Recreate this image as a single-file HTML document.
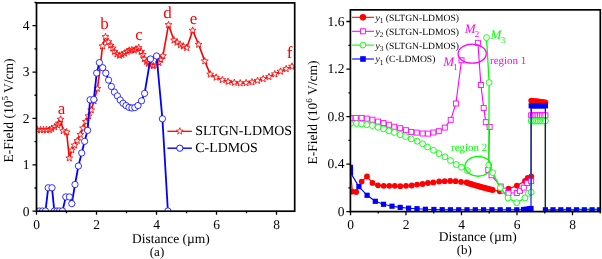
<!DOCTYPE html>
<html><head><meta charset="utf-8"><style>
html,body{margin:0;padding:0;background:#fff;width:602px;height:259px;overflow:hidden}
svg{display:block;font-family:"Liberation Serif",serif;text-rendering:geometricPrecision;will-change:transform}
</style></head><body>
<svg width="602" height="259" viewBox="0 0 602 259">
<rect width="602" height="259" fill="#fff"/>
<defs><clipPath id="cl"><rect x="36.5" y="2.9" width="258.2" height="208.3"/></clipPath><clipPath id="cr"><rect x="350.4" y="9.85" width="249.9" height="201.75"/></clipPath></defs>
<g clip-path="url(#cl)">
<polyline points="36.5,129.9 37.5,129.9 40.5,129.9 43.5,129.9 46.5,129.9 49.5,129.9 51.7,128.7 54.7,127 57.6,125.3 58.9,123.2 60.6,119.4 63.2,130.9 66.6,132.1 69.3,158.1 71.8,150.2 74.6,145.2 77.3,140.8 80.3,134.6 83,128.1 85.8,121.6 88.5,116.1 91.2,110.1 94,101.1 97.4,88.6 99.8,70.6 102.5,46.1 105.5,36.8 108.4,41.9 110.6,45.3 112.7,48.2 114.4,51.6 116.9,54.2 119.5,55.5 122,54.6 124.6,53.3 127.1,51.6 129.2,50.4 131.8,49.9 134.3,50.4 136,49.1 138.6,47.8 141.1,51.6 142.8,54.6 144.3,58.9 146.5,61.6 148.3,63.6 150.5,65.1 153.3,65.9 156,65.2 158.9,62.6 160.7,59.6 162.9,55.9 168.5,24.8 174,40.2 177,42.4 180.4,45 183.3,46.2 186.7,47.9 192.7,30.4 198.6,44.5 204.8,61.1 210.2,74.3 216.1,77.4 222.3,79.9 228.1,81.6 234.3,82.6 240.2,83.1 246.1,82.9 252,82.1 257.5,80.6 263.2,78.9 269,76.8 274.8,74.1 280.5,71.4 286.2,68.9 292,66.4 294.7,65.4" fill="none" stroke="#f00" stroke-width="1.6" stroke-linejoin="round"/>
<path d="M37.5 126.3L38.39 128.68L40.92 128.79L38.94 130.37L39.62 132.81L37.5 131.41L35.38 132.81L36.06 130.37L34.08 128.79L36.61 128.68ZM40.5 126.3L41.39 128.68L43.92 128.79L41.94 130.37L42.62 132.81L40.5 131.41L38.38 132.81L39.06 130.37L37.08 128.79L39.61 128.68ZM43.5 126.3L44.39 128.68L46.92 128.79L44.94 130.37L45.62 132.81L43.5 131.41L41.38 132.81L42.06 130.37L40.08 128.79L42.61 128.68ZM46.5 126.3L47.39 128.68L49.92 128.79L47.94 130.37L48.62 132.81L46.5 131.41L44.38 132.81L45.06 130.37L43.08 128.79L45.61 128.68ZM49.5 126.3L50.39 128.68L52.92 128.79L50.94 130.37L51.62 132.81L49.5 131.41L47.38 132.81L48.06 130.37L46.08 128.79L48.61 128.68ZM51.7 125.1L52.59 127.48L55.12 127.59L53.14 129.17L53.82 131.61L51.7 130.21L49.58 131.61L50.26 129.17L48.28 127.59L50.81 127.48ZM54.7 123.4L55.59 125.78L58.12 125.89L56.14 127.47L56.82 129.91L54.7 128.51L52.58 129.91L53.26 127.47L51.28 125.89L53.81 125.78ZM57.6 121.7L58.49 124.08L61.02 124.19L59.04 125.77L59.72 128.21L57.6 126.81L55.48 128.21L56.16 125.77L54.18 124.19L56.71 124.08ZM58.9 119.6L59.79 121.98L62.32 122.09L60.34 123.67L61.02 126.11L58.9 124.71L56.78 126.11L57.46 123.67L55.48 122.09L58.01 121.98ZM60.6 115.8L61.49 118.18L64.02 118.29L62.04 119.87L62.72 122.31L60.6 120.91L58.48 122.31L59.16 119.87L57.18 118.29L59.71 118.18ZM63.2 127.3L64.09 129.68L66.62 129.79L64.64 131.37L65.32 133.81L63.2 132.41L61.08 133.81L61.76 131.37L59.78 129.79L62.31 129.68ZM66.6 128.5L67.49 130.88L70.02 130.99L68.04 132.57L68.72 135.01L66.6 133.61L64.48 135.01L65.16 132.57L63.18 130.99L65.71 130.88ZM69.3 154.5L70.19 156.88L72.72 156.99L70.74 158.57L71.42 161.01L69.3 159.61L67.18 161.01L67.86 158.57L65.88 156.99L68.41 156.88ZM71.8 146.6L72.69 148.98L75.22 149.09L73.24 150.67L73.92 153.11L71.8 151.71L69.68 153.11L70.36 150.67L68.38 149.09L70.91 148.98ZM74.6 141.6L75.49 143.98L78.02 144.09L76.04 145.67L76.72 148.11L74.6 146.71L72.48 148.11L73.16 145.67L71.18 144.09L73.71 143.98ZM77.3 137.2L78.19 139.58L80.72 139.69L78.74 141.27L79.42 143.71L77.3 142.31L75.18 143.71L75.86 141.27L73.88 139.69L76.41 139.58ZM80.3 131L81.19 133.38L83.72 133.49L81.74 135.07L82.42 137.51L80.3 136.11L78.18 137.51L78.86 135.07L76.88 133.49L79.41 133.38ZM83 124.5L83.89 126.88L86.42 126.99L84.44 128.57L85.12 131.01L83 129.61L80.88 131.01L81.56 128.57L79.58 126.99L82.11 126.88ZM85.8 118L86.69 120.38L89.22 120.49L87.24 122.07L87.92 124.51L85.8 123.11L83.68 124.51L84.36 122.07L82.38 120.49L84.91 120.38ZM88.5 112.5L89.39 114.88L91.92 114.99L89.94 116.57L90.62 119.01L88.5 117.61L86.38 119.01L87.06 116.57L85.08 114.99L87.61 114.88ZM91.2 106.5L92.09 108.88L94.62 108.99L92.64 110.57L93.32 113.01L91.2 111.61L89.08 113.01L89.76 110.57L87.78 108.99L90.31 108.88ZM94 97.5L94.89 99.88L97.42 99.99L95.44 101.57L96.12 104.01L94 102.61L91.88 104.01L92.56 101.57L90.58 99.99L93.11 99.88ZM97.4 85L98.29 87.38L100.82 87.49L98.84 89.07L99.52 91.51L97.4 90.11L95.28 91.51L95.96 89.07L93.98 87.49L96.51 87.38ZM102.5 42.5L103.39 44.88L105.92 44.99L103.94 46.57L104.62 49.01L102.5 47.61L100.38 49.01L101.06 46.57L99.08 44.99L101.61 44.88ZM105.5 33.2L106.39 35.58L108.92 35.69L106.94 37.27L107.62 39.71L105.5 38.31L103.38 39.71L104.06 37.27L102.08 35.69L104.61 35.58ZM108.4 38.3L109.29 40.68L111.82 40.79L109.84 42.37L110.52 44.81L108.4 43.41L106.28 44.81L106.96 42.37L104.98 40.79L107.51 40.68ZM110.6 41.7L111.49 44.08L114.02 44.19L112.04 45.77L112.72 48.21L110.6 46.81L108.48 48.21L109.16 45.77L107.18 44.19L109.71 44.08ZM112.7 44.6L113.59 46.98L116.12 47.09L114.14 48.67L114.82 51.11L112.7 49.71L110.58 51.11L111.26 48.67L109.28 47.09L111.81 46.98ZM114.4 48L115.29 50.38L117.82 50.49L115.84 52.07L116.52 54.51L114.4 53.11L112.28 54.51L112.96 52.07L110.98 50.49L113.51 50.38ZM116.9 50.6L117.79 52.98L120.32 53.09L118.34 54.67L119.02 57.11L116.9 55.71L114.78 57.11L115.46 54.67L113.48 53.09L116.01 52.98ZM119.5 51.9L120.39 54.28L122.92 54.39L120.94 55.97L121.62 58.41L119.5 57.01L117.38 58.41L118.06 55.97L116.08 54.39L118.61 54.28ZM122 51L122.89 53.38L125.42 53.49L123.44 55.07L124.12 57.51L122 56.11L119.88 57.51L120.56 55.07L118.58 53.49L121.11 53.38ZM124.6 49.7L125.49 52.08L128.02 52.19L126.04 53.77L126.72 56.21L124.6 54.81L122.48 56.21L123.16 53.77L121.18 52.19L123.71 52.08ZM127.1 48L127.99 50.38L130.52 50.49L128.54 52.07L129.22 54.51L127.1 53.11L124.98 54.51L125.66 52.07L123.68 50.49L126.21 50.38ZM129.2 46.8L130.09 49.18L132.62 49.29L130.64 50.87L131.32 53.31L129.2 51.91L127.08 53.31L127.76 50.87L125.78 49.29L128.31 49.18ZM131.8 46.3L132.69 48.68L135.22 48.79L133.24 50.37L133.92 52.81L131.8 51.41L129.68 52.81L130.36 50.37L128.38 48.79L130.91 48.68ZM134.3 46.8L135.19 49.18L137.72 49.29L135.74 50.87L136.42 53.31L134.3 51.91L132.18 53.31L132.86 50.87L130.88 49.29L133.41 49.18ZM136 45.5L136.89 47.88L139.42 47.99L137.44 49.57L138.12 52.01L136 50.61L133.88 52.01L134.56 49.57L132.58 47.99L135.11 47.88ZM138.6 44.2L139.49 46.58L142.02 46.69L140.04 48.27L140.72 50.71L138.6 49.31L136.48 50.71L137.16 48.27L135.18 46.69L137.71 46.58ZM141.1 48L141.99 50.38L144.52 50.49L142.54 52.07L143.22 54.51L141.1 53.11L138.98 54.51L139.66 52.07L137.68 50.49L140.21 50.38ZM142.8 51L143.69 53.38L146.22 53.49L144.24 55.07L144.92 57.51L142.8 56.11L140.68 57.51L141.36 55.07L139.38 53.49L141.91 53.38ZM144.3 55.3L145.19 57.68L147.72 57.79L145.74 59.37L146.42 61.81L144.3 60.41L142.18 61.81L142.86 59.37L140.88 57.79L143.41 57.68ZM146.5 58L147.39 60.38L149.92 60.49L147.94 62.07L148.62 64.51L146.5 63.11L144.38 64.51L145.06 62.07L143.08 60.49L145.61 60.38ZM148.3 60L149.19 62.38L151.72 62.49L149.74 64.07L150.42 66.51L148.3 65.11L146.18 66.51L146.86 64.07L144.88 62.49L147.41 62.38ZM150.5 61.5L151.39 63.88L153.92 63.99L151.94 65.57L152.62 68.01L150.5 66.61L148.38 68.01L149.06 65.57L147.08 63.99L149.61 63.88ZM153.3 62.3L154.19 64.68L156.72 64.79L154.74 66.37L155.42 68.81L153.3 67.41L151.18 68.81L151.86 66.37L149.88 64.79L152.41 64.68ZM156 61.6L156.89 63.98L159.42 64.09L157.44 65.67L158.12 68.11L156 66.71L153.88 68.11L154.56 65.67L152.58 64.09L155.11 63.98ZM158.9 59L159.79 61.38L162.32 61.49L160.34 63.07L161.02 65.51L158.9 64.11L156.78 65.51L157.46 63.07L155.48 61.49L158.01 61.38ZM160.7 56L161.59 58.38L164.12 58.49L162.14 60.07L162.82 62.51L160.7 61.11L158.58 62.51L159.26 60.07L157.28 58.49L159.81 58.38ZM162.9 52.3L163.79 54.68L166.32 54.79L164.34 56.37L165.02 58.81L162.9 57.41L160.78 58.81L161.46 56.37L159.48 54.79L162.01 54.68ZM168.5 21.2L169.39 23.58L171.92 23.69L169.94 25.27L170.62 27.71L168.5 26.31L166.38 27.71L167.06 25.27L165.08 23.69L167.61 23.58ZM174 36.6L174.89 38.98L177.42 39.09L175.44 40.67L176.12 43.11L174 41.71L171.88 43.11L172.56 40.67L170.58 39.09L173.11 38.98ZM177 38.8L177.89 41.18L180.42 41.29L178.44 42.87L179.12 45.31L177 43.91L174.88 45.31L175.56 42.87L173.58 41.29L176.11 41.18ZM180.4 41.4L181.29 43.78L183.82 43.89L181.84 45.47L182.52 47.91L180.4 46.51L178.28 47.91L178.96 45.47L176.98 43.89L179.51 43.78ZM183.3 42.6L184.19 44.98L186.72 45.09L184.74 46.67L185.42 49.11L183.3 47.71L181.18 49.11L181.86 46.67L179.88 45.09L182.41 44.98ZM186.7 44.3L187.59 46.68L190.12 46.79L188.14 48.37L188.82 50.81L186.7 49.41L184.58 50.81L185.26 48.37L183.28 46.79L185.81 46.68ZM192.7 26.8L193.59 29.18L196.12 29.29L194.14 30.87L194.82 33.31L192.7 31.91L190.58 33.31L191.26 30.87L189.28 29.29L191.81 29.18ZM198.6 40.9L199.49 43.28L202.02 43.39L200.04 44.97L200.72 47.41L198.6 46.01L196.48 47.41L197.16 44.97L195.18 43.39L197.71 43.28ZM204.8 57.5L205.69 59.88L208.22 59.99L206.24 61.57L206.92 64.01L204.8 62.61L202.68 64.01L203.36 61.57L201.38 59.99L203.91 59.88ZM210.2 70.7L211.09 73.08L213.62 73.19L211.64 74.77L212.32 77.21L210.2 75.81L208.08 77.21L208.76 74.77L206.78 73.19L209.31 73.08ZM216.1 73.8L216.99 76.18L219.52 76.29L217.54 77.87L218.22 80.31L216.1 78.91L213.98 80.31L214.66 77.87L212.68 76.29L215.21 76.18ZM222.3 76.3L223.19 78.68L225.72 78.79L223.74 80.37L224.42 82.81L222.3 81.41L220.18 82.81L220.86 80.37L218.88 78.79L221.41 78.68ZM228.1 78L228.99 80.38L231.52 80.49L229.54 82.07L230.22 84.51L228.1 83.11L225.98 84.51L226.66 82.07L224.68 80.49L227.21 80.38ZM234.3 79L235.19 81.38L237.72 81.49L235.74 83.07L236.42 85.51L234.3 84.11L232.18 85.51L232.86 83.07L230.88 81.49L233.41 81.38ZM240.2 79.5L241.09 81.88L243.62 81.99L241.64 83.57L242.32 86.01L240.2 84.61L238.08 86.01L238.76 83.57L236.78 81.99L239.31 81.88ZM246.1 79.3L246.99 81.68L249.52 81.79L247.54 83.37L248.22 85.81L246.1 84.41L243.98 85.81L244.66 83.37L242.68 81.79L245.21 81.68ZM252 78.5L252.89 80.88L255.42 80.99L253.44 82.57L254.12 85.01L252 83.61L249.88 85.01L250.56 82.57L248.58 80.99L251.11 80.88ZM257.5 77L258.39 79.38L260.92 79.49L258.94 81.07L259.62 83.51L257.5 82.11L255.38 83.51L256.06 81.07L254.08 79.49L256.61 79.38ZM263.2 75.3L264.09 77.68L266.62 77.79L264.64 79.37L265.32 81.81L263.2 80.41L261.08 81.81L261.76 79.37L259.78 77.79L262.31 77.68ZM269 73.2L269.89 75.58L272.42 75.69L270.44 77.27L271.12 79.71L269 78.31L266.88 79.71L267.56 77.27L265.58 75.69L268.11 75.58ZM274.8 70.5L275.69 72.88L278.22 72.99L276.24 74.57L276.92 77.01L274.8 75.61L272.68 77.01L273.36 74.57L271.38 72.99L273.91 72.88ZM280.5 67.8L281.39 70.18L283.92 70.29L281.94 71.87L282.62 74.31L280.5 72.91L278.38 74.31L279.06 71.87L277.08 70.29L279.61 70.18ZM286.2 65.3L287.09 67.68L289.62 67.79L287.64 69.37L288.32 71.81L286.2 70.41L284.08 71.81L284.76 69.37L282.78 67.79L285.31 67.68ZM292 62.8L292.89 65.18L295.42 65.29L293.44 66.87L294.12 69.31L292 67.91L289.88 69.31L290.56 66.87L288.58 65.29L291.11 65.18Z" fill="#fff" stroke="#f00" stroke-width="0.85"/>
<polyline points="36.5,211 39.5,211 42.5,211 45.5,211 48.2,187.8 52,187.8 54.3,211 57,211 59.5,211 62.5,211 65.8,196.9 69.4,196.9 71.8,203.6 75,184.5 78.4,166 81.7,153 84.6,141.3 87.6,130.4 90.1,99.8 93.8,99.4 96.7,73.1 99.4,62.6 102.7,67.7 105.8,73.1 108.6,80.1 111.4,86.5 114.4,92.1 117.4,95.9 120.2,100 123.1,103.3 126,105.6 129,107.4 131.9,108 134.8,107.6 138,105.5 141.5,100.8 144.6,93.4 150.4,59 156.6,56 162.4,118.8 167.9,211" fill="none" stroke="#00f" stroke-width="1.8" stroke-linejoin="round"/>
<circle cx="36.5" cy="211" r="3.15" fill="#fff" stroke="#00f" stroke-width="0.8"/>
<circle cx="39.5" cy="211" r="3.15" fill="#fff" stroke="#00f" stroke-width="0.8"/>
<circle cx="42.5" cy="211" r="3.15" fill="#fff" stroke="#00f" stroke-width="0.8"/>
<circle cx="45.5" cy="211" r="3.15" fill="#fff" stroke="#00f" stroke-width="0.8"/>
<circle cx="48.2" cy="187.8" r="3.15" fill="#fff" stroke="#00f" stroke-width="0.8"/>
<circle cx="52" cy="187.8" r="3.15" fill="#fff" stroke="#00f" stroke-width="0.8"/>
<circle cx="54.3" cy="211" r="3.15" fill="#fff" stroke="#00f" stroke-width="0.8"/>
<circle cx="57" cy="211" r="3.15" fill="#fff" stroke="#00f" stroke-width="0.8"/>
<circle cx="59.5" cy="211" r="3.15" fill="#fff" stroke="#00f" stroke-width="0.8"/>
<circle cx="62.5" cy="211" r="3.15" fill="#fff" stroke="#00f" stroke-width="0.8"/>
<circle cx="65.8" cy="196.9" r="3.15" fill="#fff" stroke="#00f" stroke-width="0.8"/>
<circle cx="69.4" cy="196.9" r="3.15" fill="#fff" stroke="#00f" stroke-width="0.8"/>
<circle cx="71.8" cy="203.6" r="3.15" fill="#fff" stroke="#00f" stroke-width="0.8"/>
<circle cx="75" cy="184.5" r="3.15" fill="#fff" stroke="#00f" stroke-width="0.8"/>
<circle cx="78.4" cy="166" r="3.15" fill="#fff" stroke="#00f" stroke-width="0.8"/>
<circle cx="81.7" cy="153" r="3.15" fill="#fff" stroke="#00f" stroke-width="0.8"/>
<circle cx="84.6" cy="141.3" r="3.15" fill="#fff" stroke="#00f" stroke-width="0.8"/>
<circle cx="87.6" cy="130.4" r="3.15" fill="#fff" stroke="#00f" stroke-width="0.8"/>
<circle cx="90.1" cy="99.8" r="3.15" fill="#fff" stroke="#00f" stroke-width="0.8"/>
<circle cx="93.8" cy="99.4" r="3.15" fill="#fff" stroke="#00f" stroke-width="0.8"/>
<circle cx="96.7" cy="73.1" r="3.15" fill="#fff" stroke="#00f" stroke-width="0.8"/>
<circle cx="99.4" cy="62.6" r="3.15" fill="#fff" stroke="#00f" stroke-width="0.8"/>
<circle cx="102.7" cy="67.7" r="3.15" fill="#fff" stroke="#00f" stroke-width="0.8"/>
<circle cx="105.8" cy="73.1" r="3.15" fill="#fff" stroke="#00f" stroke-width="0.8"/>
<circle cx="108.6" cy="80.1" r="3.15" fill="#fff" stroke="#00f" stroke-width="0.8"/>
<circle cx="111.4" cy="86.5" r="3.15" fill="#fff" stroke="#00f" stroke-width="0.8"/>
<circle cx="114.4" cy="92.1" r="3.15" fill="#fff" stroke="#00f" stroke-width="0.8"/>
<circle cx="117.4" cy="95.9" r="3.15" fill="#fff" stroke="#00f" stroke-width="0.8"/>
<circle cx="120.2" cy="100" r="3.15" fill="#fff" stroke="#00f" stroke-width="0.8"/>
<circle cx="123.1" cy="103.3" r="3.15" fill="#fff" stroke="#00f" stroke-width="0.8"/>
<circle cx="126" cy="105.6" r="3.15" fill="#fff" stroke="#00f" stroke-width="0.8"/>
<circle cx="129" cy="107.4" r="3.15" fill="#fff" stroke="#00f" stroke-width="0.8"/>
<circle cx="131.9" cy="108" r="3.15" fill="#fff" stroke="#00f" stroke-width="0.8"/>
<circle cx="134.8" cy="107.6" r="3.15" fill="#fff" stroke="#00f" stroke-width="0.8"/>
<circle cx="138" cy="105.5" r="3.15" fill="#fff" stroke="#00f" stroke-width="0.8"/>
<circle cx="141.5" cy="100.8" r="3.15" fill="#fff" stroke="#00f" stroke-width="0.8"/>
<circle cx="144.6" cy="93.4" r="3.15" fill="#fff" stroke="#00f" stroke-width="0.8"/>
<circle cx="150.4" cy="59" r="3.15" fill="#fff" stroke="#00f" stroke-width="0.8"/>
<circle cx="156.6" cy="56" r="3.15" fill="#fff" stroke="#00f" stroke-width="0.8"/>
<circle cx="162.4" cy="118.8" r="3.15" fill="#fff" stroke="#00f" stroke-width="0.8"/>
<circle cx="167.9" cy="211" r="3.15" fill="#fff" stroke="#00f" stroke-width="0.8"/>
</g>
<rect x="36.5" y="2.9" width="258.2" height="208.3" fill="none" stroke="#000" stroke-width="1.7"/>
<path d="M36.5 211.2V214.8M66.5 211.2V213.2M96.5 211.2V214.8M126.5 211.2V213.2M156.5 211.2V214.8M186.5 211.2V213.2M216.5 211.2V214.8M246.5 211.2V213.2M276.5 211.2V214.8M36.5 211.2H32.5M36.5 188.01H34.5M36.5 164.82H32.5M36.5 141.64H34.5M36.5 118.45H32.5M36.5 95.26H34.5M36.5 72.07H32.5M36.5 48.89H34.5M36.5 25.7H32.5M36.5 2.51H34.5" stroke="#000" stroke-width="1.3" fill="none"/>
<text x="29.6" y="215.5" font-family="Liberation Serif" fill="#000" font-size="13.5" text-anchor="end">0</text>
<text x="29.6" y="169.12" font-family="Liberation Serif" fill="#000" font-size="13.5" text-anchor="end">1</text>
<text x="29.6" y="122.75" font-family="Liberation Serif" fill="#000" font-size="13.5" text-anchor="end">2</text>
<text x="29.6" y="76.37" font-family="Liberation Serif" fill="#000" font-size="13.5" text-anchor="end">3</text>
<text x="29.6" y="30" font-family="Liberation Serif" fill="#000" font-size="13.5" text-anchor="end">4</text>
<text x="36.5" y="228.8" font-family="Liberation Serif" fill="#000" font-size="13.5" text-anchor="middle">0</text>
<text x="96.5" y="228.8" font-family="Liberation Serif" fill="#000" font-size="13.5" text-anchor="middle">2</text>
<text x="156.5" y="228.8" font-family="Liberation Serif" fill="#000" font-size="13.5" text-anchor="middle">4</text>
<text x="216.5" y="228.8" font-family="Liberation Serif" fill="#000" font-size="13.5" text-anchor="middle">6</text>
<text x="276.5" y="228.8" font-family="Liberation Serif" fill="#000" font-size="13.5" text-anchor="middle">8</text>
<text x="170.9" y="242.5" font-family="Liberation Serif" fill="#000" font-size="13.5" text-anchor="middle">Distance (µm)</text>
<text x="157" y="256" font-family="Liberation Serif" fill="#000" font-size="13" text-anchor="middle">(a)</text>
<text transform="translate(13.1 110.4) rotate(-90)" font-family="Liberation Serif" fill="#000" font-size="13.5" text-anchor="middle">E-Field (10<tspan font-size="9" dy="-5">5</tspan><tspan dy="5"> V/cm)</tspan></text>
<line x1="167.4" y1="131.3" x2="191.9" y2="131.3" stroke="#f00" stroke-width="1.3"/>
<path d="M179.8 127.7L180.69 130.08L183.22 130.19L181.24 131.77L181.92 134.21L179.8 132.81L177.68 134.21L178.36 131.77L176.38 130.19L178.91 130.08Z" fill="#fff" stroke="#f00" stroke-width="0.75"/>
<text x="195.3" y="135.2" font-family="Liberation Serif" fill="#000" font-size="13.9">SLTGN-LDMOS</text>
<line x1="167.4" y1="148.2" x2="191.9" y2="148.2" stroke="#00f" stroke-width="1.4"/>
<circle cx="179.8" cy="148.2" r="3.15" fill="#fff" stroke="#00f" stroke-width="0.9"/>
<text x="195.3" y="151.8" font-family="Liberation Serif" fill="#000" font-size="13.9">C-LDMOS</text>
<text x="61.6" y="113.6" font-family="Liberation Serif" fill="#f00" font-size="17" text-anchor="middle">a</text>
<text x="104.5" y="29" font-family="Liberation Serif" fill="#f00" font-size="17" text-anchor="middle">b</text>
<text x="138.9" y="39.6" font-family="Liberation Serif" fill="#f00" font-size="17" text-anchor="middle">c</text>
<text x="167.6" y="17.9" font-family="Liberation Serif" fill="#f00" font-size="17" text-anchor="middle">d</text>
<text x="193.4" y="23.9" font-family="Liberation Serif" fill="#f00" font-size="17" text-anchor="middle">e</text>
<text x="289.6" y="57.5" font-family="Liberation Serif" fill="#f00" font-size="17" text-anchor="middle">f</text>
<g clip-path="url(#cr)">
<polyline points="350.5,170 352.3,191.6 356.2,192 361.6,181.6 367,176.5 372.5,182.9 378,185.3 383.7,185.8 389.3,185.8 394.8,185.8 400.3,186.2 406,185.8 411.7,185.5 417.1,184.6 422.5,184 427.9,183 433.3,182.4 439.2,181.5 444.7,181.2 450.2,181 455.6,181.2 461.1,181.9 466.6,182.5 468.05,183.06 469.5,183.54 470.95,184 472.4,184.44 473.85,184.87 475.3,185.29 476.75,185.71 478.2,186.11 479.65,186.52 481.1,186.92 482.55,187.31 484,187.71 485.45,188.1 486.9,188.48 488.35,188.86 489.8,189.25 491.25,189.62 492.7,190 499.8,191.3 508.6,188.7 516.9,185.6 525,181 527.7,177.9 531.2,176.5 531.2,100.6 532.98,100.82 534.75,101.05 536.52,101.27 538.3,101.5 540.08,101.72 541.85,101.95 543.62,102.17 545.4,102.4 545.4,211.2 551.6,211.2 557.6,211.2 563.6,211.2 569.6,211.2 575.6,211.2 581.6,211.2 587.6,211.2 593.6,211.2 599.6,211.2" fill="none" stroke="#f00" stroke-width="1.2" stroke-linejoin="round"/>
<circle cx="352.3" cy="191.6" r="2.9" fill="#f00"/>
<circle cx="356.2" cy="192" r="2.9" fill="#f00"/>
<circle cx="361.6" cy="181.6" r="2.9" fill="#f00"/>
<circle cx="367" cy="176.5" r="2.9" fill="#f00"/>
<circle cx="372.5" cy="182.9" r="2.9" fill="#f00"/>
<circle cx="378" cy="185.3" r="2.9" fill="#f00"/>
<circle cx="383.7" cy="185.8" r="2.9" fill="#f00"/>
<circle cx="389.3" cy="185.8" r="2.9" fill="#f00"/>
<circle cx="394.8" cy="185.8" r="2.9" fill="#f00"/>
<circle cx="400.3" cy="186.2" r="2.9" fill="#f00"/>
<circle cx="406" cy="185.8" r="2.9" fill="#f00"/>
<circle cx="411.7" cy="185.5" r="2.9" fill="#f00"/>
<circle cx="417.1" cy="184.6" r="2.9" fill="#f00"/>
<circle cx="422.5" cy="184" r="2.9" fill="#f00"/>
<circle cx="427.9" cy="183" r="2.9" fill="#f00"/>
<circle cx="433.3" cy="182.4" r="2.9" fill="#f00"/>
<circle cx="439.2" cy="181.5" r="2.9" fill="#f00"/>
<circle cx="444.7" cy="181.2" r="2.9" fill="#f00"/>
<circle cx="450.2" cy="181" r="2.9" fill="#f00"/>
<circle cx="455.6" cy="181.2" r="2.9" fill="#f00"/>
<circle cx="461.1" cy="181.9" r="2.9" fill="#f00"/>
<circle cx="466.6" cy="182.5" r="2.9" fill="#f00"/>
<circle cx="468.05" cy="183.06" r="2.9" fill="#f00"/>
<circle cx="469.5" cy="183.54" r="2.9" fill="#f00"/>
<circle cx="470.95" cy="184" r="2.9" fill="#f00"/>
<circle cx="472.4" cy="184.44" r="2.9" fill="#f00"/>
<circle cx="473.85" cy="184.87" r="2.9" fill="#f00"/>
<circle cx="475.3" cy="185.29" r="2.9" fill="#f00"/>
<circle cx="476.75" cy="185.71" r="2.9" fill="#f00"/>
<circle cx="478.2" cy="186.11" r="2.9" fill="#f00"/>
<circle cx="479.65" cy="186.52" r="2.9" fill="#f00"/>
<circle cx="481.1" cy="186.92" r="2.9" fill="#f00"/>
<circle cx="482.55" cy="187.31" r="2.9" fill="#f00"/>
<circle cx="484" cy="187.71" r="2.9" fill="#f00"/>
<circle cx="485.45" cy="188.1" r="2.9" fill="#f00"/>
<circle cx="486.9" cy="188.48" r="2.9" fill="#f00"/>
<circle cx="488.35" cy="188.86" r="2.9" fill="#f00"/>
<circle cx="489.8" cy="189.25" r="2.9" fill="#f00"/>
<circle cx="491.25" cy="189.62" r="2.9" fill="#f00"/>
<circle cx="492.7" cy="190" r="2.9" fill="#f00"/>
<circle cx="499.8" cy="191.3" r="2.9" fill="#f00"/>
<circle cx="508.6" cy="188.7" r="2.9" fill="#f00"/>
<circle cx="516.9" cy="185.6" r="2.9" fill="#f00"/>
<circle cx="525" cy="181" r="2.9" fill="#f00"/>
<circle cx="527.7" cy="177.9" r="2.9" fill="#f00"/>
<circle cx="531.2" cy="176.5" r="2.9" fill="#f00"/>
<circle cx="531.2" cy="100.6" r="2.9" fill="#f00"/>
<circle cx="532.98" cy="100.82" r="2.9" fill="#f00"/>
<circle cx="534.75" cy="101.05" r="2.9" fill="#f00"/>
<circle cx="536.52" cy="101.27" r="2.9" fill="#f00"/>
<circle cx="538.3" cy="101.5" r="2.9" fill="#f00"/>
<circle cx="540.08" cy="101.72" r="2.9" fill="#f00"/>
<circle cx="541.85" cy="101.95" r="2.9" fill="#f00"/>
<circle cx="543.62" cy="102.17" r="2.9" fill="#f00"/>
<circle cx="545.4" cy="102.4" r="2.9" fill="#f00"/>
<polyline points="350.5,118.2 355.7,117.9 361.6,117.9 366.8,118.6 372.4,119.7 378.1,121.6 383.5,123.1 388.9,124.7 394.3,126.7 400.2,128.2 405.9,130.2 411.3,132.1 416.7,132.6 422.6,133.5 428.1,133.6 433.4,132.5 438.8,131.2 444.8,127.6 450.7,119.8 455.9,103.5 461.5,60.3" fill="none" stroke="#f0f" stroke-width="1.1" stroke-linejoin="round"/>
<polyline points="477.9,42.8 480.9,85 483.7,107.9 485.8,122.2 489.6,127 488.3,170 491.5,175.3 500.7,186.5 503.6,190.6 508.5,193 516.8,193 520,190.8 523.8,187.6 527.2,183 531.2,181.2 531.2,115.4 532.98,115.4 534.75,115.4 536.52,115.4 538.3,115.4 540.08,115.4 541.85,115.4 543.62,115.4 545.4,115.4 545.4,211.2 551.6,211.2 557.6,211.2 563.6,211.2 569.6,211.2 575.6,211.2 581.6,211.2 587.6,211.2 593.6,211.2 599.6,211.2" fill="none" stroke="#f0f" stroke-width="1.1" stroke-linejoin="round"/>
<rect x="348" y="115.7" width="5" height="5" fill="#fff" stroke="#f0f" stroke-width="0.9"/>
<rect x="353.2" y="115.4" width="5" height="5" fill="#fff" stroke="#f0f" stroke-width="0.9"/>
<rect x="359.1" y="115.4" width="5" height="5" fill="#fff" stroke="#f0f" stroke-width="0.9"/>
<rect x="364.3" y="116.1" width="5" height="5" fill="#fff" stroke="#f0f" stroke-width="0.9"/>
<rect x="369.9" y="117.2" width="5" height="5" fill="#fff" stroke="#f0f" stroke-width="0.9"/>
<rect x="375.6" y="119.1" width="5" height="5" fill="#fff" stroke="#f0f" stroke-width="0.9"/>
<rect x="381" y="120.6" width="5" height="5" fill="#fff" stroke="#f0f" stroke-width="0.9"/>
<rect x="386.4" y="122.2" width="5" height="5" fill="#fff" stroke="#f0f" stroke-width="0.9"/>
<rect x="391.8" y="124.2" width="5" height="5" fill="#fff" stroke="#f0f" stroke-width="0.9"/>
<rect x="397.7" y="125.7" width="5" height="5" fill="#fff" stroke="#f0f" stroke-width="0.9"/>
<rect x="403.4" y="127.7" width="5" height="5" fill="#fff" stroke="#f0f" stroke-width="0.9"/>
<rect x="408.8" y="129.6" width="5" height="5" fill="#fff" stroke="#f0f" stroke-width="0.9"/>
<rect x="414.2" y="130.1" width="5" height="5" fill="#fff" stroke="#f0f" stroke-width="0.9"/>
<rect x="420.1" y="131" width="5" height="5" fill="#fff" stroke="#f0f" stroke-width="0.9"/>
<rect x="425.6" y="131.1" width="5" height="5" fill="#fff" stroke="#f0f" stroke-width="0.9"/>
<rect x="430.9" y="130" width="5" height="5" fill="#fff" stroke="#f0f" stroke-width="0.9"/>
<rect x="436.3" y="128.7" width="5" height="5" fill="#fff" stroke="#f0f" stroke-width="0.9"/>
<rect x="442.3" y="125.1" width="5" height="5" fill="#fff" stroke="#f0f" stroke-width="0.9"/>
<rect x="448.2" y="117.3" width="5" height="5" fill="#fff" stroke="#f0f" stroke-width="0.9"/>
<rect x="453.4" y="101" width="5" height="5" fill="#fff" stroke="#f0f" stroke-width="0.9"/>
<rect x="459" y="57.8" width="5" height="5" fill="#fff" stroke="#f0f" stroke-width="0.9"/>
<rect x="475.4" y="40.3" width="5" height="5" fill="#fff" stroke="#f0f" stroke-width="0.9"/>
<rect x="478.4" y="82.5" width="5" height="5" fill="#fff" stroke="#f0f" stroke-width="0.9"/>
<rect x="481.2" y="105.4" width="5" height="5" fill="#fff" stroke="#f0f" stroke-width="0.9"/>
<rect x="483.3" y="119.7" width="5" height="5" fill="#fff" stroke="#f0f" stroke-width="0.9"/>
<rect x="487.1" y="124.5" width="5" height="5" fill="#fff" stroke="#f0f" stroke-width="0.9"/>
<rect x="485.8" y="167.5" width="5" height="5" fill="#fff" stroke="#f0f" stroke-width="0.9"/>
<rect x="489" y="172.8" width="5" height="5" fill="#fff" stroke="#f0f" stroke-width="0.9"/>
<rect x="498.2" y="184" width="5" height="5" fill="#fff" stroke="#f0f" stroke-width="0.9"/>
<rect x="501.1" y="188.1" width="5" height="5" fill="#fff" stroke="#f0f" stroke-width="0.9"/>
<rect x="506" y="190.5" width="5" height="5" fill="#fff" stroke="#f0f" stroke-width="0.9"/>
<rect x="514.3" y="190.5" width="5" height="5" fill="#fff" stroke="#f0f" stroke-width="0.9"/>
<rect x="517.5" y="188.3" width="5" height="5" fill="#fff" stroke="#f0f" stroke-width="0.9"/>
<rect x="521.3" y="185.1" width="5" height="5" fill="#fff" stroke="#f0f" stroke-width="0.9"/>
<rect x="524.7" y="180.5" width="5" height="5" fill="#fff" stroke="#f0f" stroke-width="0.9"/>
<rect x="528.7" y="178.7" width="5" height="5" fill="#fff" stroke="#f0f" stroke-width="0.9"/>
<rect x="528.7" y="112.9" width="5" height="5" fill="#fff" stroke="#f0f" stroke-width="0.9"/>
<rect x="530.48" y="112.9" width="5" height="5" fill="#fff" stroke="#f0f" stroke-width="0.9"/>
<rect x="532.25" y="112.9" width="5" height="5" fill="#fff" stroke="#f0f" stroke-width="0.9"/>
<rect x="534.02" y="112.9" width="5" height="5" fill="#fff" stroke="#f0f" stroke-width="0.9"/>
<rect x="535.8" y="112.9" width="5" height="5" fill="#fff" stroke="#f0f" stroke-width="0.9"/>
<rect x="537.58" y="112.9" width="5" height="5" fill="#fff" stroke="#f0f" stroke-width="0.9"/>
<rect x="539.35" y="112.9" width="5" height="5" fill="#fff" stroke="#f0f" stroke-width="0.9"/>
<rect x="541.12" y="112.9" width="5" height="5" fill="#fff" stroke="#f0f" stroke-width="0.9"/>
<rect x="542.9" y="112.9" width="5" height="5" fill="#fff" stroke="#f0f" stroke-width="0.9"/>
<polyline points="350.5,123.6 356.5,123.6 361.6,124 366.8,124.7 372.4,125.6 378.1,127.3 383.5,128.9 388.9,130.9 394.3,132.4 400.2,134.6 405.5,136.6 411.3,138.9 417.2,141.2 422.6,143.8 427.5,147 433.5,150.2 439,153.6 445,156.8 450.5,160.5 456.3,164.5 461.5,167.2 467.4,170.6" fill="none" stroke="#0f0" stroke-width="1.1" stroke-linejoin="round"/>
<polyline points="486.5,37.6 489.1,82.5 488.8,165.1 492.6,172.6 500.3,187.7 508,198 516.7,202.7 524.9,198 528.4,193.4 531.2,192.2 531.2,121 532.98,121 534.75,121 536.52,121 538.3,121 540.08,121 541.85,121 543.62,121 545.4,121 545.4,211.2 551.6,211.2 557.6,211.2 563.6,211.2 569.6,211.2 575.6,211.2 581.6,211.2 587.6,211.2 593.6,211.2 599.6,211.2" fill="none" stroke="#0f0" stroke-width="1.3" stroke-linejoin="round"/>
<circle cx="350.5" cy="123.6" r="2.95" fill="#fff" stroke="#0f0" stroke-width="0.9"/>
<circle cx="356.5" cy="123.6" r="2.95" fill="#fff" stroke="#0f0" stroke-width="0.9"/>
<circle cx="361.6" cy="124" r="2.95" fill="#fff" stroke="#0f0" stroke-width="0.9"/>
<circle cx="366.8" cy="124.7" r="2.95" fill="#fff" stroke="#0f0" stroke-width="0.9"/>
<circle cx="372.4" cy="125.6" r="2.95" fill="#fff" stroke="#0f0" stroke-width="0.9"/>
<circle cx="378.1" cy="127.3" r="2.95" fill="#fff" stroke="#0f0" stroke-width="0.9"/>
<circle cx="383.5" cy="128.9" r="2.95" fill="#fff" stroke="#0f0" stroke-width="0.9"/>
<circle cx="388.9" cy="130.9" r="2.95" fill="#fff" stroke="#0f0" stroke-width="0.9"/>
<circle cx="394.3" cy="132.4" r="2.95" fill="#fff" stroke="#0f0" stroke-width="0.9"/>
<circle cx="400.2" cy="134.6" r="2.95" fill="#fff" stroke="#0f0" stroke-width="0.9"/>
<circle cx="405.5" cy="136.6" r="2.95" fill="#fff" stroke="#0f0" stroke-width="0.9"/>
<circle cx="411.3" cy="138.9" r="2.95" fill="#fff" stroke="#0f0" stroke-width="0.9"/>
<circle cx="417.2" cy="141.2" r="2.95" fill="#fff" stroke="#0f0" stroke-width="0.9"/>
<circle cx="422.6" cy="143.8" r="2.95" fill="#fff" stroke="#0f0" stroke-width="0.9"/>
<circle cx="427.5" cy="147" r="2.95" fill="#fff" stroke="#0f0" stroke-width="0.9"/>
<circle cx="433.5" cy="150.2" r="2.95" fill="#fff" stroke="#0f0" stroke-width="0.9"/>
<circle cx="439" cy="153.6" r="2.95" fill="#fff" stroke="#0f0" stroke-width="0.9"/>
<circle cx="445" cy="156.8" r="2.95" fill="#fff" stroke="#0f0" stroke-width="0.9"/>
<circle cx="450.5" cy="160.5" r="2.95" fill="#fff" stroke="#0f0" stroke-width="0.9"/>
<circle cx="456.3" cy="164.5" r="2.95" fill="#fff" stroke="#0f0" stroke-width="0.9"/>
<circle cx="461.5" cy="167.2" r="2.95" fill="#fff" stroke="#0f0" stroke-width="0.9"/>
<circle cx="467.4" cy="170.6" r="2.95" fill="#fff" stroke="#0f0" stroke-width="0.9"/>
<circle cx="486.5" cy="37.6" r="2.95" fill="#fff" stroke="#0f0" stroke-width="0.9"/>
<circle cx="489.1" cy="82.5" r="2.95" fill="#fff" stroke="#0f0" stroke-width="0.9"/>
<circle cx="488.8" cy="165.1" r="2.95" fill="#fff" stroke="#0f0" stroke-width="0.9"/>
<circle cx="492.6" cy="172.6" r="2.95" fill="#fff" stroke="#0f0" stroke-width="0.9"/>
<circle cx="500.3" cy="187.7" r="2.95" fill="#fff" stroke="#0f0" stroke-width="0.9"/>
<circle cx="508" cy="198" r="2.95" fill="#fff" stroke="#0f0" stroke-width="0.9"/>
<circle cx="516.7" cy="202.7" r="2.95" fill="#fff" stroke="#0f0" stroke-width="0.9"/>
<circle cx="524.9" cy="198" r="2.95" fill="#fff" stroke="#0f0" stroke-width="0.9"/>
<circle cx="528.4" cy="193.4" r="2.95" fill="#fff" stroke="#0f0" stroke-width="0.9"/>
<circle cx="531.2" cy="192.2" r="2.95" fill="#fff" stroke="#0f0" stroke-width="0.9"/>
<circle cx="531.2" cy="121" r="2.95" fill="#fff" stroke="#0f0" stroke-width="0.9"/>
<circle cx="532.98" cy="121" r="2.95" fill="#fff" stroke="#0f0" stroke-width="0.9"/>
<circle cx="534.75" cy="121" r="2.95" fill="#fff" stroke="#0f0" stroke-width="0.9"/>
<circle cx="536.52" cy="121" r="2.95" fill="#fff" stroke="#0f0" stroke-width="0.9"/>
<circle cx="538.3" cy="121" r="2.95" fill="#fff" stroke="#0f0" stroke-width="0.9"/>
<circle cx="540.08" cy="121" r="2.95" fill="#fff" stroke="#0f0" stroke-width="0.9"/>
<circle cx="541.85" cy="121" r="2.95" fill="#fff" stroke="#0f0" stroke-width="0.9"/>
<circle cx="543.62" cy="121" r="2.95" fill="#fff" stroke="#0f0" stroke-width="0.9"/>
<circle cx="545.4" cy="121" r="2.95" fill="#fff" stroke="#0f0" stroke-width="0.9"/>
<circle cx="566.5" cy="211.6" r="2.95" fill="#fff" stroke="#0f0" stroke-width="0.9"/>
<circle cx="579.5" cy="211.6" r="2.95" fill="#fff" stroke="#0f0" stroke-width="0.9"/>
<circle cx="588.3" cy="211.6" r="2.95" fill="#fff" stroke="#0f0" stroke-width="0.9"/>
<circle cx="595.6" cy="211.6" r="2.95" fill="#fff" stroke="#0f0" stroke-width="0.9"/>
<polyline points="350.5,167.4 350.5,172.6 358.9,186.6 367.1,195.3 375.3,201.3 383.5,204.3 392,206.2 400.2,207.4 408.6,208.2 417,208.7 425.4,209.3 433.9,209.5 442.2,209.7 450.4,209.8 458.7,209.8 467,209.8 475.3,209.8 483.6,209.8 491.9,209.8 500.2,209.8 508.5,209.8 516.8,209.8 523.5,209.5 526.5,209.2 529.2,208.8 531,208.5 531.2,105.8 533.23,105.8 535.26,105.8 537.29,105.8 539.31,105.8 541.34,105.8 543.37,105.8 545.4,105.8 545.4,209.8 553,209.8 560.8,209.8 568.6,209.8 576.5,209.8 584.3,209.8 592.1,209.8 599.5,209.8" fill="none" stroke="#00f" stroke-width="1.1" stroke-linejoin="round"/>
<rect x="347.9" y="164.8" width="5.2" height="5.2" fill="#00f"/>
<rect x="347.9" y="170" width="5.2" height="5.2" fill="#00f"/>
<rect x="356.3" y="184" width="5.2" height="5.2" fill="#00f"/>
<rect x="364.5" y="192.7" width="5.2" height="5.2" fill="#00f"/>
<rect x="372.7" y="198.7" width="5.2" height="5.2" fill="#00f"/>
<rect x="380.9" y="201.7" width="5.2" height="5.2" fill="#00f"/>
<rect x="389.4" y="203.6" width="5.2" height="5.2" fill="#00f"/>
<rect x="397.6" y="204.8" width="5.2" height="5.2" fill="#00f"/>
<rect x="406" y="205.6" width="5.2" height="5.2" fill="#00f"/>
<rect x="414.4" y="206.1" width="5.2" height="5.2" fill="#00f"/>
<rect x="422.8" y="206.7" width="5.2" height="5.2" fill="#00f"/>
<rect x="431.3" y="206.9" width="5.2" height="5.2" fill="#00f"/>
<rect x="439.6" y="207.1" width="5.2" height="5.2" fill="#00f"/>
<rect x="447.8" y="207.2" width="5.2" height="5.2" fill="#00f"/>
<rect x="456.1" y="207.2" width="5.2" height="5.2" fill="#00f"/>
<rect x="464.4" y="207.2" width="5.2" height="5.2" fill="#00f"/>
<rect x="472.7" y="207.2" width="5.2" height="5.2" fill="#00f"/>
<rect x="481" y="207.2" width="5.2" height="5.2" fill="#00f"/>
<rect x="489.3" y="207.2" width="5.2" height="5.2" fill="#00f"/>
<rect x="497.6" y="207.2" width="5.2" height="5.2" fill="#00f"/>
<rect x="505.9" y="207.2" width="5.2" height="5.2" fill="#00f"/>
<rect x="514.2" y="207.2" width="5.2" height="5.2" fill="#00f"/>
<rect x="520.9" y="206.9" width="5.2" height="5.2" fill="#00f"/>
<rect x="523.9" y="206.6" width="5.2" height="5.2" fill="#00f"/>
<rect x="526.6" y="206.2" width="5.2" height="5.2" fill="#00f"/>
<rect x="528.4" y="205.9" width="5.2" height="5.2" fill="#00f"/>
<rect x="528.6" y="103.2" width="5.2" height="5.2" fill="#00f"/>
<rect x="530.63" y="103.2" width="5.2" height="5.2" fill="#00f"/>
<rect x="532.66" y="103.2" width="5.2" height="5.2" fill="#00f"/>
<rect x="534.69" y="103.2" width="5.2" height="5.2" fill="#00f"/>
<rect x="536.71" y="103.2" width="5.2" height="5.2" fill="#00f"/>
<rect x="538.74" y="103.2" width="5.2" height="5.2" fill="#00f"/>
<rect x="540.77" y="103.2" width="5.2" height="5.2" fill="#00f"/>
<rect x="542.8" y="103.2" width="5.2" height="5.2" fill="#00f"/>
<rect x="542.8" y="207.2" width="5.2" height="5.2" fill="#00f"/>
<rect x="550.4" y="207.2" width="5.2" height="5.2" fill="#00f"/>
<rect x="558.2" y="207.2" width="5.2" height="5.2" fill="#00f"/>
<rect x="566" y="207.2" width="5.2" height="5.2" fill="#00f"/>
<rect x="573.9" y="207.2" width="5.2" height="5.2" fill="#00f"/>
<rect x="581.7" y="207.2" width="5.2" height="5.2" fill="#00f"/>
<rect x="589.5" y="207.2" width="5.2" height="5.2" fill="#00f"/>
<rect x="596.9" y="207.2" width="5.2" height="5.2" fill="#00f"/>
</g>
<ellipse cx="472.2" cy="53.7" rx="14.1" ry="9.5" fill="none" stroke="#f0f" stroke-width="1.3"/>
<ellipse cx="478.1" cy="166.3" rx="13.1" ry="9.9" fill="none" stroke="#0f0" stroke-width="1.4"/>
<text x="443.2" y="65.5" font-family="Liberation Serif" font-style="italic" font-size="13" fill="#f0f">M<tspan font-size="9" font-style="normal" dx="-0.8" dy="4.2">1</tspan></text>
<text x="464.8" y="32.9" font-family="Liberation Serif" font-style="italic" font-size="13" fill="#f0f">M<tspan font-size="9" font-style="normal" dx="-0.8" dy="4.2">2</tspan></text>
<text x="490.6" y="38.8" font-family="Liberation Serif" font-style="italic" font-size="13" fill="#0f0">M<tspan font-size="9" font-style="normal" dx="-0.8" dy="4.2">3</tspan></text>
<text x="490" y="63.5" font-family="Liberation Serif" font-size="11" fill="#f0f">region 1</text>
<text x="451" y="150.8" font-family="Liberation Serif" font-size="11" fill="#0f0">region 2</text>
<rect x="350.4" y="9.85" width="249.9" height="201.75" fill="none" stroke="#000" stroke-width="1.7"/>
<path d="M350.5 211.6V215.2M378.25 211.6V213.6M406 211.6V215.2M433.75 211.6V213.6M461.5 211.6V215.2M489.25 211.6V213.6M517 211.6V215.2M544.75 211.6V213.6M572.5 211.6V215.2M600.25 211.6V213.6M350.4 211.6H346.4M350.4 187.84H348.4M350.4 164.08H346.4M350.4 140.32H348.4M350.4 116.56H346.4M350.4 92.8H348.4M350.4 69.04H346.4M350.4 45.28H348.4M350.4 21.52H346.4" stroke="#000" stroke-width="1.3" fill="none"/>
<text x="344.4" y="215.9" font-family="Liberation Serif" fill="#000" font-size="13.5" text-anchor="end">0</text>
<text x="344.4" y="168.38" font-family="Liberation Serif" fill="#000" font-size="13.5" text-anchor="end">0.4</text>
<text x="344.4" y="120.86" font-family="Liberation Serif" fill="#000" font-size="13.5" text-anchor="end">0.8</text>
<text x="344.4" y="73.34" font-family="Liberation Serif" fill="#000" font-size="13.5" text-anchor="end">1.2</text>
<text x="344.4" y="25.82" font-family="Liberation Serif" fill="#000" font-size="13.5" text-anchor="end">1.6</text>
<text x="350.5" y="228.8" font-family="Liberation Serif" fill="#000" font-size="13.5" text-anchor="middle">0</text>
<text x="406" y="228.8" font-family="Liberation Serif" fill="#000" font-size="13.5" text-anchor="middle">2</text>
<text x="461.5" y="228.8" font-family="Liberation Serif" fill="#000" font-size="13.5" text-anchor="middle">4</text>
<text x="517" y="228.8" font-family="Liberation Serif" fill="#000" font-size="13.5" text-anchor="middle">6</text>
<text x="572.5" y="228.8" font-family="Liberation Serif" fill="#000" font-size="13.5" text-anchor="middle">8</text>
<text x="477.8" y="241.4" font-family="Liberation Serif" fill="#000" font-size="13.5" text-anchor="middle">Distance (µm)</text>
<text x="464.3" y="254" font-family="Liberation Serif" fill="#000" font-size="13" text-anchor="middle">(b)</text>
<text transform="translate(317.3 112.5) rotate(-90)" font-family="Liberation Serif" fill="#000" font-size="13.5" text-anchor="middle">E-Field (10<tspan font-size="9" dy="-5">6</tspan><tspan dy="5"> V/cm)</tspan></text>
<line x1="352.1" y1="17.3" x2="373.9" y2="17.3" stroke="#f00" stroke-width="1.1"/>
<circle cx="362.9" cy="17.3" r="3.2" fill="#f00"/>
<text x="375.4" y="20.7" font-family="Liberation Serif" font-size="9.6" fill="#000"><tspan font-style="italic">y</tspan><tspan font-size="7.5" dy="2.3">1</tspan><tspan dy="-2.3"> (SLTGN-LDMOS)</tspan></text>
<line x1="352.1" y1="31.3" x2="373.9" y2="31.3" stroke="#f0f" stroke-width="1.1"/>
<rect x="360.4" y="28.8" width="5" height="5" fill="#fff" stroke="#f0f" stroke-width="0.9"/>
<text x="375.4" y="34.7" font-family="Liberation Serif" font-size="9.6" fill="#000"><tspan font-style="italic">y</tspan><tspan font-size="7.5" dy="2.3">2</tspan><tspan dy="-2.3"> (SLTGN-LDMOS)</tspan></text>
<line x1="352.1" y1="45.1" x2="373.9" y2="45.1" stroke="#0f0" stroke-width="1.1"/>
<circle cx="362.9" cy="45.1" r="2.9" fill="#fff" stroke="#0f0" stroke-width="0.9"/>
<text x="375.4" y="48.5" font-family="Liberation Serif" font-size="9.6" fill="#000"><tspan font-style="italic">y</tspan><tspan font-size="7.5" dy="2.3">3</tspan><tspan dy="-2.3"> (SLTGN-LDMOS)</tspan></text>
<line x1="352.1" y1="59" x2="373.9" y2="59" stroke="#00f" stroke-width="1.1"/>
<rect x="360.2" y="56.2" width="5.6" height="5.6" fill="#00f"/>
<text x="375.4" y="62.4" font-family="Liberation Serif" font-size="9.6" fill="#000"><tspan font-style="italic">y</tspan><tspan font-size="7.5" dy="2.3">1</tspan><tspan dy="-2.3"> (C-LDMOS)</tspan></text>
</svg>
</body></html>
